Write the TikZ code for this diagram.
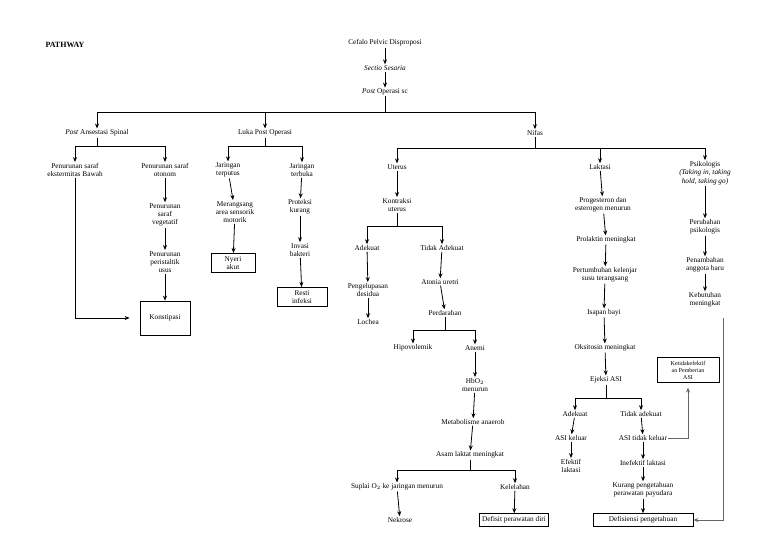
\documentclass[tikz,border=0pt]{standalone}
\usepackage{fontspec}
\setmainfont{Liberation Serif}
\usetikzlibrary{arrows.meta}
\begin{document}
\begin{tikzpicture}[x=1pt,y=-1pt
        , every node/.style={ font=\fontsize{7.3}{8.3}\selectfont, align=center, inner sep=1pt }
        , arr/.style={ -{Stealth[length=5pt,width=4pt]}, line width=.8pt }
        , box/.style={ draw, line width=.8pt, inner sep=3pt }
        ]
        \useasboundingbox (0,0) rectangle (768,543);

        \node[font=\fontsize{8}{9}\selectfont\bfseries] (title) at (65,45) {PATHWAY};
        \node (cpd) at (385,43) {Cefalo Pelvic Disproposi};
        \node (ss) at (385,68) {\textit{Sectio Sesaria}};
        \node (po) at (385,92) {\textit{Post} Operasi sc};
        \node (pas) at (97,133) {\textit{Post} Ansestasi Spinal};
        \node (luka) at (265,133) {Luka Post Operasi};
        \node (nifas) at (535,133) {Nifas};

        % Post ansestasi spinal
        \node (ekst) at (75,170) {Penurunan saraf\\ekstermitas Bawah};
        \node (oton) at (165,170) {Penurunan saraf\\otonom};
        \node (veg) at (165,215) {Penurunan\\saraf\\vegetatif};
        \node (peri) at (165,262) {Penurunan\\peristaltik\\usus};
        \node[box, minimum width=50pt, minimum height=34pt] (kons) at (165,318) {Konstipasi};

        % Luka post operasi
        \node (jput) at (228,170) {Jaringan\\terputus};
        \node (jbuka) at (302,170) {Jaringan\\terbuka};
        \node (mera) at (235,212) {Merangsang\\area sensorik\\motorik};
        \node[box, minimum width=44pt] (nyeri) at (233,263) {Nyeri\\akut};
        \node (prot) at (300,207) {Proteksi\\kurang};
        \node (inva) at (300,250) {Invasi\\bakteri};
        \node[box, minimum width=50pt] (resti) at (302,297) {Resti\\infeksi};

        % Nifas - uterus
        \node (ute) at (397,167) {Uterus};
        \node (kont) at (397,205) {Kontraksi\\uterus};
        \node (adk1) at (367,248) {Adekuat};
        \node (tadk1) at (442,248) {Tidak Adekuat};
        \node (peng) at (368,290) {Pengelupasan\\desidua};
        \node (loch) at (368,322) {Lochea};
        \node (aton) at (440,282) {Atonia uretri};
        \node (perd) at (445,313) {Perdarahan};
        \node (hipo) at (413,348) {Hipovolemik};
        \node (anem) at (475,348) {Anemi};
        \node (hbo) at (475,385) {HbO$_2$\\menurun};
        \node (meta) at (473,422) {Metabolisme anaerob};
        \node (asam) at (470,455) {Asam laktat meningkat};
        \node (supl) at (397,487) {Suplai O$_2$ ke jaringan menurun};
        \node (kele) at (515,487) {Kelelahan};
        \node (nekr) at (400,520) {Nekrose};
        \node[box] (defi) at (514,520) {Defisit perawatan diri};

        % Nifas - laktasi
        \node (lakt) at (600,167) {Laktasi};
        \node (prog) at (603,205) {Progesteron dan\\esterogen menurun};
        \node (prol) at (606,240) {Prolaktin meningkat};
        \node (pert) at (605,275) {Pertumbuhan kelenjar\\susu terangsang};
        \node (isap) at (604,313) {Isapan bayi};
        \node (oksi) at (605,348) {Oksitosin meningkat};
        \node (ejek) at (606,380) {Ejeksi ASI};
        \node (adk2) at (575,414) {Adekuat};
        \node (tadk2) at (641,414) {Tidak adekuat};
        \node (asik) at (571,438) {ASI keluar};
        \node (asitk) at (643,438) {ASI tidak keluar};
        \node (efek) at (571,466) {Efektif\\laktasi};
        \node (inef) at (643,463) {Inefektif laktasi};
        \node (kura) at (643,490) {Kurang pengetahuan\\perawatan payudara};
        \node[box, minimum width=100pt] (defp) at (643,520) {Defisiensi pengetahuan};
        \node[box, font=\fontsize{6}{7}\selectfont, minimum width=62pt] (ketid) at (688,370) {Ketidakefektif\\an Pemberian\\ASI};

        % Nifas - psikologis
        \node (psik) at (705,173) {Psikologis\\\textit{(Taking in, taking}\\\textit{hold, taking go)}};
        \node (perub) at (705,227) {Perubahan\\psikologis};
        \node (pena) at (705,265) {Penambahan\\anggota baru};
        \node (kebu) at (705,300) {Kebutuhan\\meningkat};

        % main branches
        \draw[arr] (cpd) -- (ss);
        \draw[arr] (ss) -- (po);
        \draw[arr] (po.south) |- (97,112) -- (pas.north);
        \draw[arr] (po.south) |- (535,112) -- (nifas.north);
        \draw[arr] (265,112) -- (luka.north);

        \draw[arr] (pas.south) -- ++(0,9) -| (ekst.north);
        \draw[arr] (pas.south) ++(0,9) -| (oton.north);
        \draw[arr] (oton) -- (veg);
        \draw[arr] (veg) -- (peri);
        \draw[arr] (peri) -- (kons);
        \draw[arr] (ekst.south) |- ([xshift=-10pt]kons.west);

        \draw[arr] (luka.south) -- ++(0,9) -| (jput.north);
        \draw[arr] (luka.south) ++(0,9) -| (jbuka.north);
        \draw[arr] (jput) -- (mera);
        \draw[arr] (mera) -- (nyeri);
        \draw[arr] (jbuka) -- (prot);
        \draw[arr] (prot) -- (inva);
        \draw[arr] (inva) -- (resti);

        \draw[arr] (nifas.south) -- ++(0,12) -| (ute.north);
        \draw[arr] (nifas.south) ++(0,12) -| (lakt.north);
        \draw[arr] (nifas.south) ++(0,12) -| (psik.north);

        \draw[arr] (ute) -- (kont);
        \draw[arr] (kont.south) -- ++(0,13) -| (adk1.north);
        \draw[arr] (kont.south) ++(0,13) -| (tadk1.north);
        \draw[arr] (adk1) -- (peng);
        \draw[arr] (peng) -- (loch);
        \draw[arr] (tadk1) -- (aton);
        \draw[arr] (aton) -- (perd);
        \draw[arr] (perd.south) -- ++(0,14) -| (hipo.north);
        \draw[arr] (perd.south) ++(0,14) -| (anem.north);
        \draw[arr] (anem) -- (hbo);
        \draw[arr] (hbo) -- (meta);
        \draw[arr] (meta) -- (asam);
        \draw[arr] (asam.south) -- ++(0,11) -| (supl.north);
        \draw[arr] (asam.south) ++(0,11) -| (kele.north);
        \draw[arr] (supl) -- (nekr);
        \draw[arr] (kele) -- (defi);

        \draw[arr] (lakt) -- (prog);
        \draw[arr] (prog) -- (prol);
        \draw[arr] (prol) -- (pert);
        \draw[arr] (pert) -- (isap);
        \draw[arr] (isap) -- (oksi);
        \draw[arr] (oksi) -- (ejek);
        \draw[arr] (ejek.south) -- ++(0,14) -| (adk2.north);
        \draw[arr] (ejek.south) ++(0,14) -| (tadk2.north);
        \draw[arr] (adk2) -- (asik);
        \draw[arr] (asik) -- (efek);
        \draw[arr] (tadk2) -- (asitk);
        \draw[arr] (asitk) -- (inef);
        \draw[arr] (inef) -- (kura);
        \draw[arr] (kura) -- (defp);
        \draw[arr, draw=black!60] (asitk.east) -| ([yshift=-5pt]ketid.south);

        \draw[arr] (psik) -- (perub);
        \draw[arr] (perub) -- (pena);
        \draw[arr] (pena) -- (kebu);
        \draw[arr, draw=black!60] (723,318) |- (defp.east);
\end{tikzpicture}
\end{document}
